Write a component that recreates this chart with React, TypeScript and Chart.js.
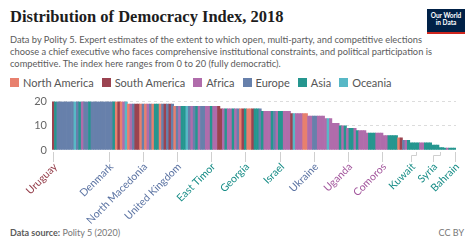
import React, { useEffect, useRef } from 'react';
import { Chart, registerables } from 'chart.js';

Chart.register(...registerables);

// Countries sorted by 2018 democracy index (descending), as shown left to right
const countries = [
  // 20
  'Uruguay', 'Taiwan', 'Switzerland', 'Sweden', 'Spain', 'Slovenia', 'Slovakia', 'Portugal', 'Norway', 'New Zealand',
  'Netherlands', 'Mongolia', 'Mauritius', 'Luxembourg', 'Lithuania', 'Japan', 'Italy', 'Ireland', 'Greece', 'Germany',
  'France', 'Finland', 'Estonia', 'Denmark', 'Czechia', 'Cyprus', 'Costa Rica', 'Chile', 'Canada', 'Cape Verde', 'Australia',
  // 19
  'Trinidad and Tobago', 'South Africa', 'Poland', 'Peru', 'Paraguay', 'Panama', 'North Macedonia', 'Mexico', 'Lesotho', 'Latvia',
  'Jamaica', 'Indonesia', 'India', 'Guatemala', 'Croatia', 'Colombia', 'Bulgaria', 'Brazil', 'Belgium',
  // 18
  'United States', 'United Kingdom', 'Tunisia', 'Sri Lanka', 'South Korea', 'Solomon Islands', 'Serbia', 'Senegal', 'Romania', 'Philippines',
  'Namibia', 'Montenegro', 'Moldova', 'Malawi', 'Ghana', 'East Timor', 'Botswana', 'Benin', 'Argentina',
  // 17
  'Suriname', 'Sierra Leone', 'Nepal', 'Madagascar', 'Liberia', 'Kyrgyzstan', 'Kenya', 'Hungary', 'Honduras', 'Guyana',
  'Georgia', 'El Salvador', 'Dominican Republic', 'Bolivia', 'Bhutan', 'Armenia', 'Albania',
  // 16
  'Pakistan', 'Nigeria', 'Niger', 'Mali', 'Lebanon', 'Kosovo', 'Ivory Coast', 'Israel', 'Iraq', 'Guinea', 'Gambia', 'Burkina Faso',
  // 15
  'Ecuador', 'Papua New Guinea', 'Zambia', 'Mozambique', 'Somalia', 'Nicaragua', 'Haiti',
  // 14
  'Zimbabwe', 'Tanzania', 'Ukraine', 'Russia', 'Gabon', 'Djibouti', 'Cameroon',
  // 13
  'Togo', 'Fiji', 'Algeria',
  // 11
  'Morocco', 'Central African Republic', 'Burundi',
  // 10
  'Singapore', 'Ethiopia', 'Cambodia',
  // 9
  'Uganda', 'Thailand', 'Jordan', 'Angola',
  // 8
  'Turkey', 'Rwanda', 'Egypt', 'Chad',
  // 7
  'Sudan', 'Tajikistan', 'Kazakhstan', 'Iran', 'Democratic Republic of Congo', 'Congo', 'Comoros',
  // 6
  'Libya', 'Guinea-Bissau', 'Myanmar', 'Laos', 'Afghanistan', 'Bangladesh',
  // 5
  'Cuba', 'Venezuela',
  // 4
  'Belarus', 'Eritrea', 'China',
  // 3
  'Uzbekistan', 'Turkmenistan', 'Kuwait', 'Azerbaijan', 'Equatorial Guinea', 'Eswatini', 'Yemen', 'Malaysia', 'United Arab Emirates',
  // 2
  'Vietnam', 'Oman', 'Maldives',
  // 1
  'Syria', 'Brunei',
  // 0
  'Saudi Arabia', 'South Sudan', 'Qatar', 'North Korea', 'Bahrain',
];

const continents = [
  // 20
  'SA', 'AS', 'EU', 'EU', 'EU', 'EU', 'EU', 'EU', 'EU', 'OC',
  'EU', 'AS', 'AF', 'EU', 'EU', 'AS', 'EU', 'EU', 'EU', 'EU',
  'EU', 'EU', 'EU', 'EU', 'EU', 'AS', 'NA', 'SA', 'NA', 'AF', 'OC',
  // 19
  'NA', 'AF', 'EU', 'SA', 'SA', 'NA', 'EU', 'NA', 'AF', 'EU',
  'NA', 'AS', 'AS', 'NA', 'EU', 'SA', 'EU', 'SA', 'EU',
  // 18
  'NA', 'EU', 'AF', 'AS', 'AS', 'OC', 'EU', 'AF', 'EU', 'AS',
  'AF', 'EU', 'EU', 'AF', 'AF', 'AS', 'AF', 'AF', 'SA',
  // 17
  'SA', 'AF', 'AS', 'AF', 'AF', 'AS', 'AF', 'EU', 'NA', 'SA',
  'AS', 'NA', 'NA', 'SA', 'AS', 'AS', 'EU',
  // 16
  'AS', 'AF', 'AF', 'AF', 'AS', 'EU', 'AF', 'AS', 'AS', 'AF', 'AF', 'AF',
  // 15
  'SA', 'OC', 'AF', 'AF', 'AF', 'NA', 'NA',
  // 14
  'AF', 'AF', 'EU', 'EU', 'AF', 'AF', 'AF',
  // 13
  'AF', 'OC', 'AF',
  // 11
  'AF', 'AF', 'AF',
  // 10
  'AS', 'AF', 'AS',
  // 9
  'AF', 'AS', 'AS', 'AF',
  // 8
  'AS', 'AF', 'AF', 'AF',
  // 7
  'AF', 'AS', 'AS', 'AS', 'AF', 'AF', 'AF',
  // 6
  'AF', 'AF', 'AS', 'AS', 'AS', 'AS',
  // 5
  'NA', 'SA',
  // 4
  'EU', 'AF', 'AS',
  // 3
  'AS', 'AS', 'AS', 'AS', 'AF', 'AF', 'AS', 'AS', 'AS',
  // 2
  'AS', 'AS', 'AS',
  // 1
  'AS', 'AS',
  // 0
  'AS', 'AF', 'AS', 'AS', 'AS',
];

const scores = [
  20, 20, 20, 20, 20, 20, 20, 20, 20, 20,
  20, 20, 20, 20, 20, 20, 20, 20, 20, 20,
  20, 20, 20, 20, 20, 20, 20, 20, 20, 20, 20,
  19, 19, 19, 19, 19, 19, 19, 19, 19, 19,
  19, 19, 19, 19, 19, 19, 19, 19, 19,
  18, 18, 18, 18, 18, 18, 18, 18, 18, 18,
  18, 18, 18, 18, 18, 18, 18, 18, 18,
  17, 17, 17, 17, 17, 17, 17, 17, 17, 17,
  17, 17, 17, 17, 17, 17, 17,
  16, 16, 16, 16, 16, 16, 16, 16, 16, 16, 16, 16,
  15, 15, 15, 15, 15, 15, 15,
  14, 14, 14, 14, 14, 14, 14,
  13, 13, 13,
  11, 11, 11,
  10, 10, 10,
  9, 9, 9, 9,
  8, 8, 8, 8,
  7, 7, 7, 7, 7, 7, 7,
  6, 6, 6, 6, 6, 6,
  5, 5,
  4, 4, 4,
  3, 3, 3, 3, 3, 3, 3, 3, 3,
  2, 2, 2,
  1, 1,
  0, 0, 0, 0, 0,
];

const labeledCountries = [
  'Uruguay', 'Denmark', 'North Macedonia', 'United Kingdom', 'East Timor', 'Georgia', 'Israel',
  'Ukraine', 'Uganda', 'Comoros', 'Kuwait', 'Syria', 'Bahrain',
];

const legendItems = [
  { code: 'NA', name: 'North America' },
  { code: 'SA', name: 'South America' },
  { code: 'AF', name: 'Africa' },
  { code: 'EU', name: 'Europe' },
  { code: 'AS', name: 'Asia' },
  { code: 'OC', name: 'Oceania' },
];

const yTickValues = [0, 10, 20];

const barColors: Record<string, string> = {
  NA: '#E8806E',
  SA: '#9B4350',
  AF: '#B06CAB',
  EU: '#6780AB',
  AS: '#25968F',
  OC: '#58B8C6',
};

const textColors: Record<string, string> = {
  NA: '#E56E5A',
  SA: '#913845',
  AF: '#A2559C',
  EU: '#5A72A2',
  AS: '#168C86',
  OC: '#38AABA',
};

const labelShift: Record<string, number> = { Kuwait: -5, Syria: -7 };

const xLabelsPlugin = {
  id: 'xLabels',
  afterDraw(chart: any) {
    const { ctx, chartArea } = chart;
    const xs = chart.scales.x;
    const y0 = chartArea.bottom;
    ctx.save();
    ctx.font = '10.5px Lato';
    countries.forEach((name, i) => {
      if (!labeledCountries.includes(name)) return;
      const x = Math.round(xs.getPixelForValue(i)) + 0.5;
      const dx = labelShift[name] || 0;
      const lx = x + dx;
      ctx.strokeStyle = '#cfcfcf';
      ctx.lineWidth = 1;
      ctx.beginPath();
      if (dx) {
        ctx.moveTo(x, y0 + 2);
        ctx.lineTo(x, y0 + 5.5);
        ctx.lineTo(lx, y0 + 5.5);
        ctx.lineTo(lx, y0 + 12);
      } else {
        ctx.moveTo(x, y0 + 2);
        ctx.lineTo(x, y0 + 12);
      }
      ctx.stroke();
      ctx.save();
      ctx.translate(lx + 2, y0 + 15);
      ctx.rotate(-Math.PI / 4);
      ctx.textAlign = 'right';
      ctx.textBaseline = 'middle';
      ctx.fillStyle = textColors[continents[i]];
      ctx.fillText(name, 0, 0);
      ctx.restore();
    });
    ctx.restore();
  },
};

export default function App() {
  const ref = useRef<HTMLCanvasElement>(null);

  useEffect(() => {
    if (!ref.current) return;
    const chart = new Chart(ref.current, {
      type: 'bar',
      data: {
        labels: countries,
        datasets: [
          {
            data: scores,
            backgroundColor: continents.map((c) => barColors[c]),
            borderWidth: 0,
            barPercentage: 1,
            categoryPercentage: 1,
            minBarLength: 2,
          },
        ],
      },
      options: {
        animation: false,
        responsive: false,
        layout: { padding: { left: 0, right: 18, top: 9, bottom: 75 } },
        plugins: { legend: { display: false }, tooltip: { enabled: false }, title: { display: false } },
        scales: {
          x: { display: false },
          y: {
            min: 0,
            max: 20,
            afterFit: (s: any) => {
              s.width = 52;
            },
            afterBuildTicks: (s: any) => {
              s.ticks = yTickValues.map((v) => ({ value: v }));
            },
            ticks: {
              font: { family: 'Lato', size: 11 },
              color: '#666',
              padding: 5,
            },
            grid: {
              drawTicks: false,
              color: (c: any) => (c.tick && c.tick.value === 0 ? 'rgba(0,0,0,0)' : '#dcdcdc'),
            },
            border: { display: false, dash: [3, 3] },
          },
        },
      },
      plugins: [xLabelsPlugin],
    });
    return () => chart.destroy();
  }, []);

  return (
    <div
      style={{
        position: 'fixed',
        left: 0,
        top: 0,
        width: 474,
        height: 247,
        background: '#fff',
        overflow: 'hidden',
        fontFamily: 'Lato, sans-serif',
      }}
    >
      <div
        style={{
          position: 'absolute',
          left: 10,
          top: 7,
          fontFamily: '"Liberation Serif", serif',
          fontSize: 16.5,
          fontWeight: 700,
          lineHeight: '20px',
          color: '#1d1d1d',
          whiteSpace: 'nowrap',
        }}
      >
        Distribution of Democracy Index, 2018
      </div>
      <div
        style={{
          position: 'absolute',
          left: 427,
          top: 9,
          width: 38,
          height: 20,
          background: '#002147',
          borderBottom: '2px solid #ce261e',
          color: '#fff',
          fontSize: 6.5,
          fontWeight: 700,
          lineHeight: '7px',
          textAlign: 'center',
          paddingTop: 3,
          boxSizing: 'content-box',
        }}
      >
        Our World
        <br />
        in Data
      </div>
      <div
        style={{
          position: 'absolute',
          left: 10,
          top: 34,
          fontSize: 9.3,
          lineHeight: '12px',
          color: '#5b5b5b',
          whiteSpace: 'nowrap',
        }}
      >
        Data by Polity 5. Expert estimates of the extent to which open, multi-party, and competitive elections
        <br />
        choose a chief executive who faces comprehensive institutional constraints, and political participation is
        <br />
        competitive. The index here ranges from 0 to 20 (fully democratic).
      </div>
      <div
        style={{
          position: 'absolute',
          left: 10,
          top: 76,
          display: 'flex',
          alignItems: 'center',
          fontSize: 11,
          lineHeight: '13px',
          color: '#555',
          whiteSpace: 'nowrap',
        }}
      >
        {legendItems.map((it) => (
          <div key={it.code} style={{ display: 'flex', alignItems: 'center', marginRight: 8 }}>
            <span
              style={{ display: 'inline-block', width: 9, height: 9, background: barColors[it.code], marginRight: 4 }}
            />
            <span>{it.name}</span>
          </div>
        ))}
      </div>
      <div style={{ position: 'absolute', left: 0, top: 90 }}>
        <canvas ref={ref} width={474} height={135} style={{ display: 'block' }} />
      </div>
      <div
        style={{
          position: 'absolute',
          left: 10,
          top: 227,
          fontSize: 9,
          lineHeight: '11px',
          color: '#777',
          whiteSpace: 'nowrap',
        }}
      >
        <span style={{ fontWeight: 700, color: '#5b5b5b' }}>Data source:</span> Polity 5 (2020)
      </div>
      <div
        style={{
          position: 'absolute',
          right: 10,
          top: 227,
          fontSize: 9,
          lineHeight: '11px',
          color: '#777',
        }}
      >
        CC BY
      </div>
    </div>
  );
}
